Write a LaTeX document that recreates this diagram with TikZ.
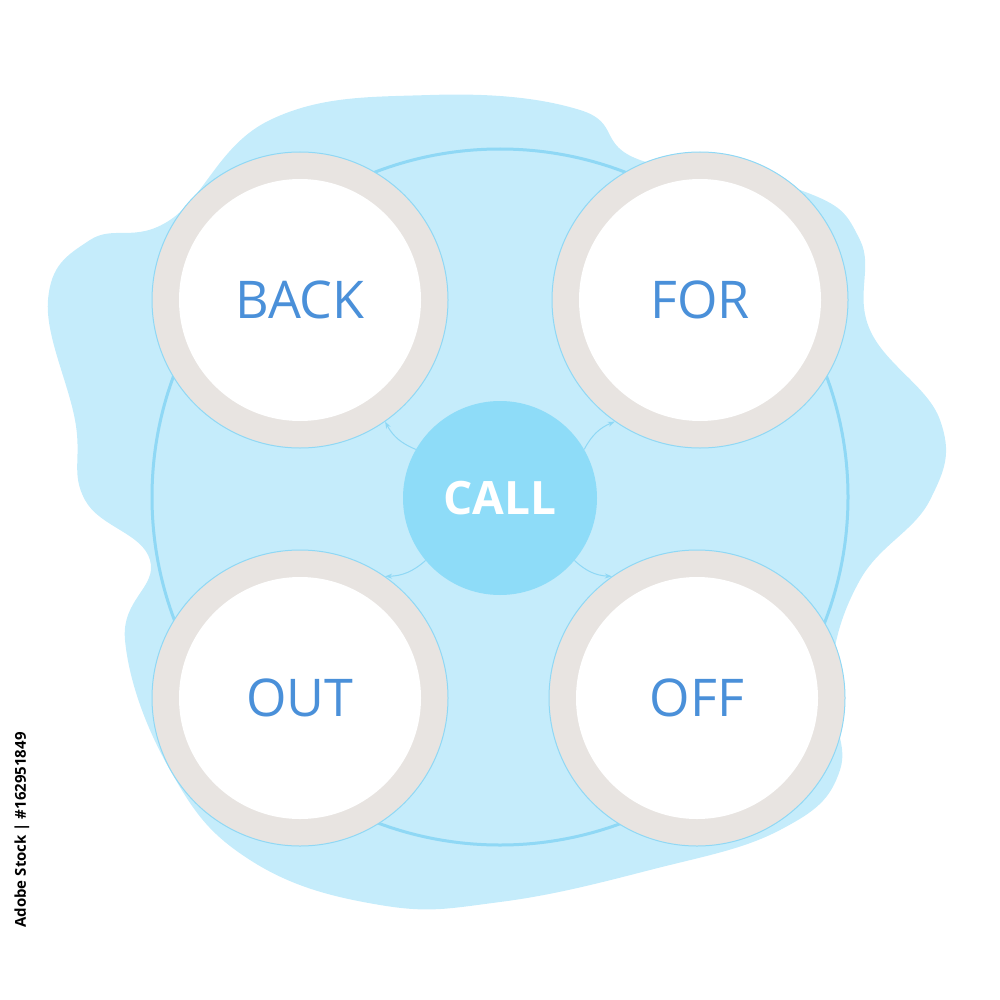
\documentclass[tikz,border=0pt]{standalone}
\usepackage{fontspec}
\setmainfont{Open Sans}
\usetikzlibrary{arrows.meta}
\definecolor{blob}{HTML}{C5ECFB}
\definecolor{ringb}{HTML}{8FD8F5}
\definecolor{ring}{HTML}{E8E4E1}
\definecolor{callc}{HTML}{8EDCF8}
\definecolor{txt}{HTML}{4A90D9}
\tikzset{
 outer/.style={circle,minimum size=296pt,fill=ring,draw=ringb,line width=1pt,inner sep=0pt},
 inner/.style={circle,minimum size=242pt,fill=white,inner sep=0pt,text=txt,font=\fontsize{52}{56}\selectfont},
 link/.style={draw=ringb,line width=1pt,-{Stealth[length=7pt,width=5pt]}}
}
\begin{document}
\begin{tikzpicture}[x=1pt,y=-1pt]
\useasboundingbox (0,0) rectangle (1000,1000);
\fill[blob] plot[smooth cycle,tension=0.7] coordinates{(270,120)(430,95)(580,110)(640,160)(800,190)(860,240)(870,330)(940,420)(930,500)(860,580)(830,680)(840,770)(780,830)(650,870)(500,902)(380,905)(250,860)(170,770)(125,640)(150,560)(85,500)(75,420)(48,300)(90,240)(170,220)};
\draw[ringb,line width=3pt] (500,497) circle (348);
\node[outer] (bo) at (300,300) {}; \node[inner] (back) at (300,300) {BACK};
\node[outer] (fo) at (700,300) {}; \node[inner] (for) at (700,300) {FOR};
\node[outer] (oo) at (300,698) {}; \node[inner] (out) at (300,698) {OUT};
\node[outer] (ffo) at (697,698) {}; \node[inner] (off) at (697,698) {OFF};
\node[circle,minimum size=194pt,fill=callc,text=white,font=\bfseries\fontsize{46}{50}\selectfont] (call) at (500,498) {CALL};
\draw[link] (call.150) to[bend left=20] (bo.-55);
\draw[link] (call.30) to[bend left=20] (fo.-125);
\draw[link] (call.220) to[bend left=20] (oo.55);
\draw[link] (call.-40) to[bend right=20] (ffo.125);
\node[rotate=90,font=\bfseries\fontsize{15}{15}\selectfont] (id) at (22,830) {Adobe Stock | \#162951849};
\end{tikzpicture}
\end{document}
